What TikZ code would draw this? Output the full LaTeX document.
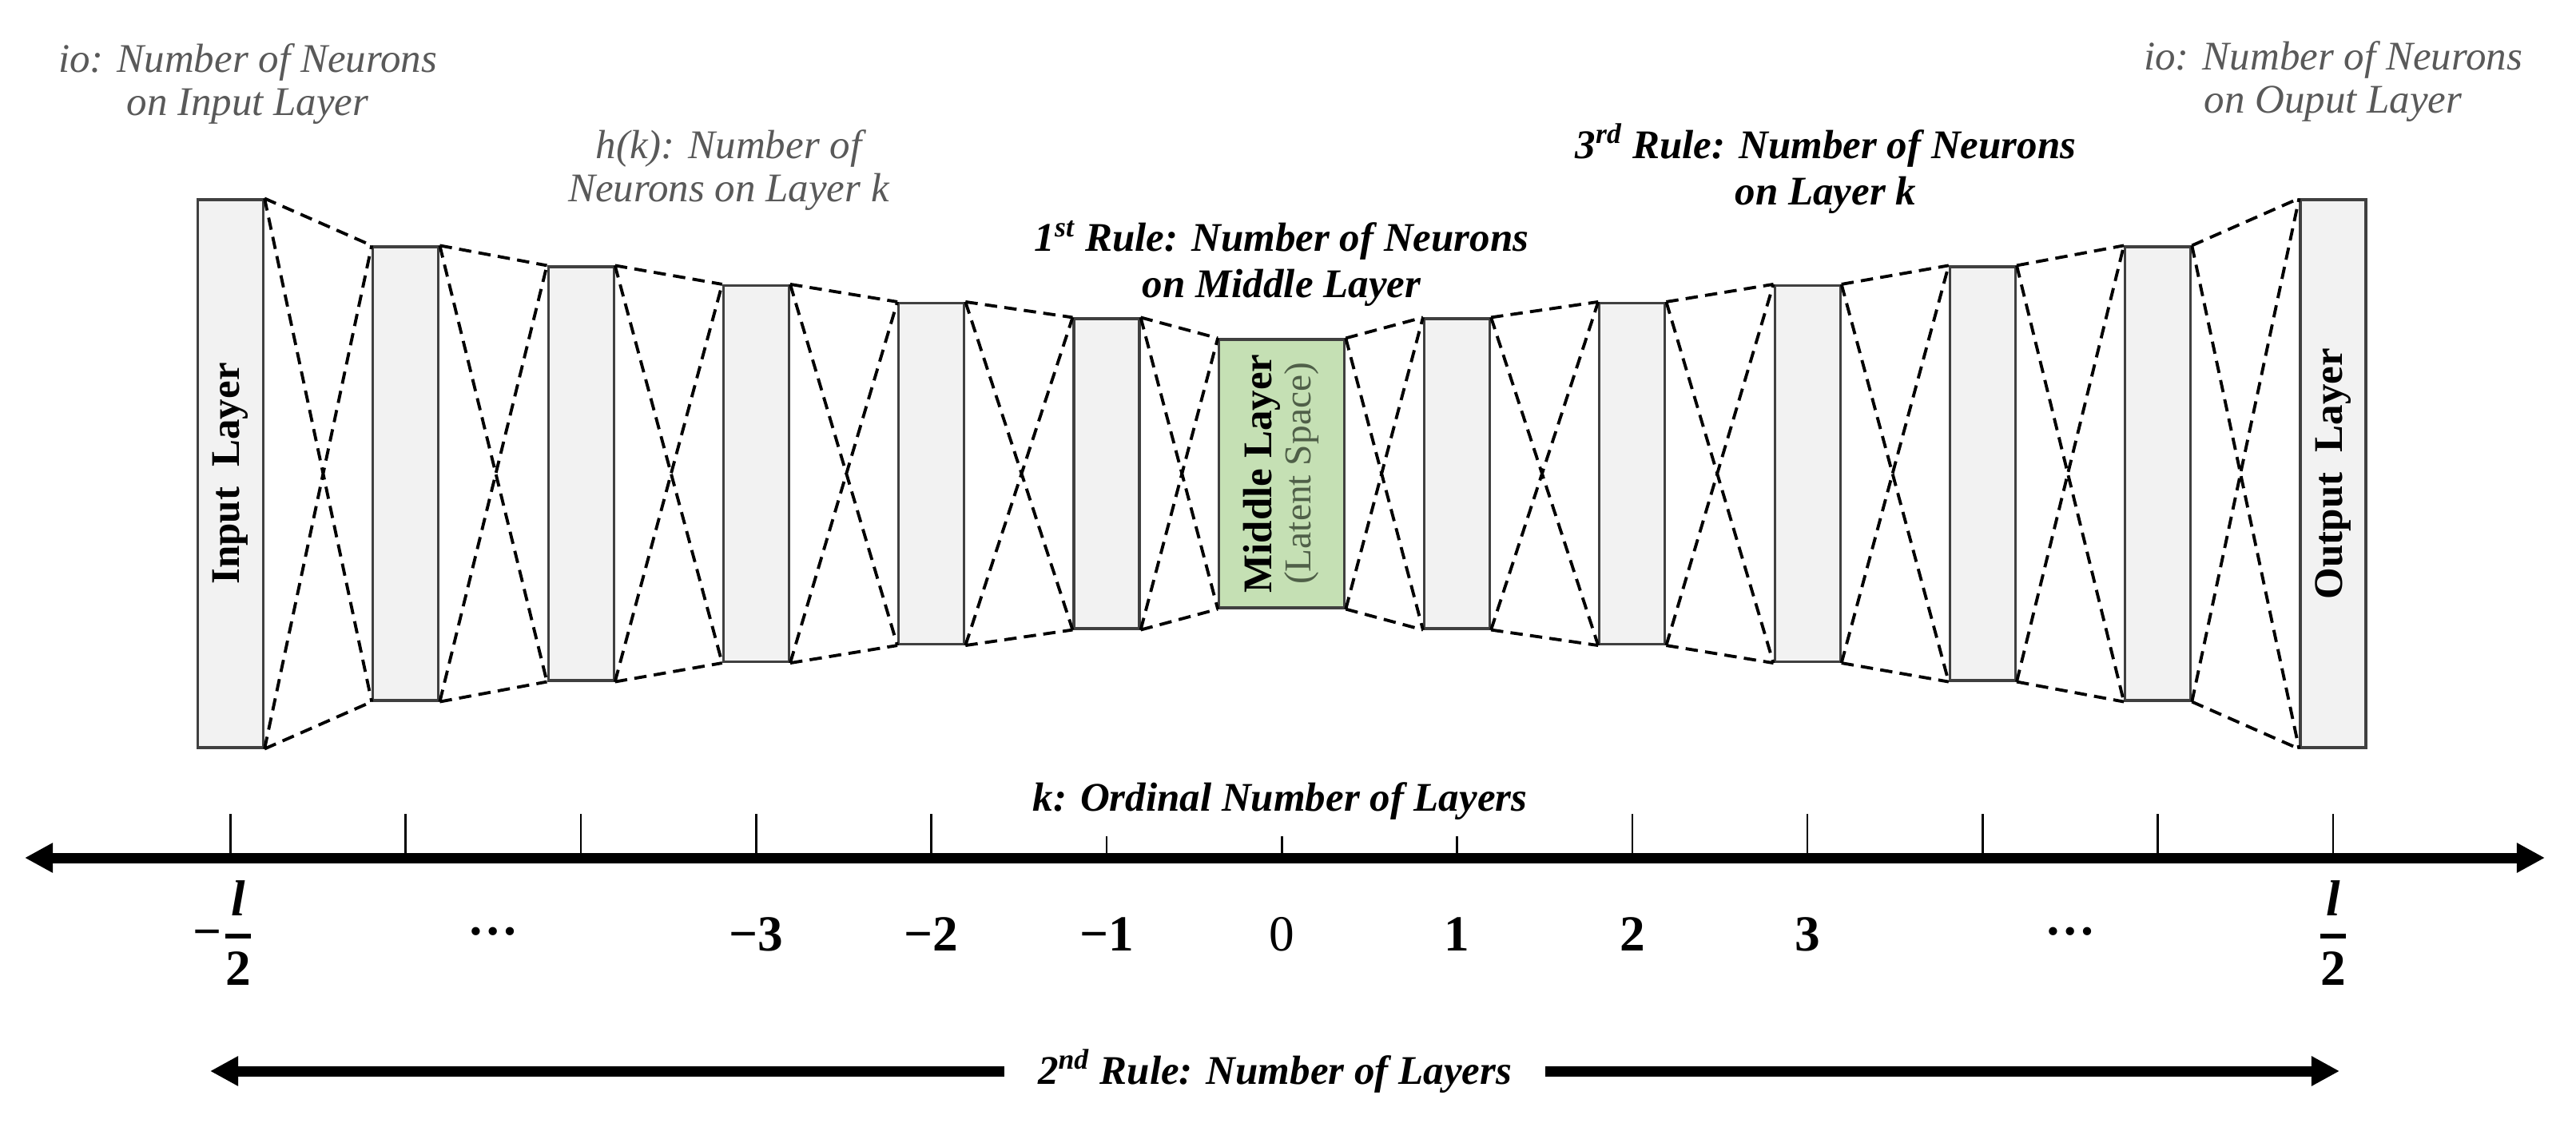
\documentclass[tikz,border=0pt]{standalone}
\usepackage{amsmath}
\usepackage{fontspec}
\setmainfont{Liberation Serif}
\usetikzlibrary{arrows.meta}
\newcommand{\layerwd}{.82cm}
\definecolor{notegray}{HTML}{595959}
\definecolor{layerfill}{HTML}{F2F2F2}
\definecolor{latentfill}{HTML}{C5E0B4}
\definecolor{latenttext}{HTML}{4F5F48}
\definecolor{edgegray}{HTML}{404040}

\begin{document}
\begin{tikzpicture}[
  layer/.style={draw=edgegray, line width=.9pt, fill=layerfill, rectangle, inner sep=0pt,
    minimum width=\layerwd, font=\fontsize{14.5}{17}\selectfont\bfseries},
  link/.style={line width=1.1pt, dash pattern=on 4.4pt off 2.6pt},
  note/.style={text=notegray, align=center, font=\fontsize{14.5}{15.6}\selectfont\itshape},
  rulenote/.style={align=center, font=\fontsize{14.5}{16.5}\selectfont\bfseries\itshape},
  bigarrow/.style={line width=3.7pt, {Triangle[length=10pt,width=10pt]}-{Triangle[length=10pt,width=10pt]}},
  tickmark/.style={line width=.75pt},
  ticklabel/.style={font=\fontsize{18}{20}\selectfont\bfseries}
]
\useasboundingbox (0,0) rectangle (32.24,14.05);

% layers, from input to output
\node (in) at (2.885,8.12) [layer, minimum height=6.86cm] {\rotatebox{90}{Input\ \ Layer}};
\node (e1) at (5.078,8.12) [layer, minimum height=5.68cm] {};
\node (e2) at (7.271,8.12) [layer, minimum height=5.18cm] {};
\node (e3) at (9.464,8.12) [layer, minimum height=4.71cm] {};
\node (e4) at (11.657,8.12) [layer, minimum height=4.27cm] {};
\node (e5) at (13.850,8.12) [layer, minimum height=3.88cm] {};
\node (mid) at (16.042,8.12) [layer, fill=latentfill, minimum width=1.57cm, minimum height=3.36cm]
  {\rotatebox{90}{\begin{tabular}{@{}c@{}}Middle Layer\\[-3pt]
   {\mdseries\fontsize{13.5}{14}\selectfont\color{latenttext}(Latent Space)}\end{tabular}}};
\node (d1) at (18.235,8.12) [layer, minimum height=3.88cm] {};
\node (d2) at (20.428,8.12) [layer, minimum height=4.27cm] {};
\node (d3) at (22.621,8.12) [layer, minimum height=4.71cm] {};
\node (d4) at (24.814,8.12) [layer, minimum height=5.18cm] {};
\node (d5) at (27.007,8.12) [layer, minimum height=5.68cm] {};
\node (out) at (29.200,8.12) [layer, minimum height=6.86cm] {\rotatebox{90}{Output\ \ Layer}};

\draw[link]
(in.north east) to (e1.north west) (in.north east) to (e1.south west) (in.south east) to (e1.north west) (in.south east) to (e1.south west)
(e1.north east) to (e2.north west) (e1.north east) to (e2.south west) (e1.south east) to (e2.north west) (e1.south east) to (e2.south west)
(e2.north east) to (e3.north west) (e2.north east) to (e3.south west) (e2.south east) to (e3.north west) (e2.south east) to (e3.south west)
(e3.north east) to (e4.north west) (e3.north east) to (e4.south west) (e3.south east) to (e4.north west) (e3.south east) to (e4.south west)
(e4.north east) to (e5.north west) (e4.north east) to (e5.south west) (e4.south east) to (e5.north west) (e4.south east) to (e5.south west)
(e5.north east) to (mid.north west) (e5.north east) to (mid.south west) (e5.south east) to (mid.north west) (e5.south east) to (mid.south west)
(mid.north east) to (d1.north west) (mid.north east) to (d1.south west) (mid.south east) to (d1.north west) (mid.south east) to (d1.south west)
(d1.north east) to (d2.north west) (d1.north east) to (d2.south west) (d1.south east) to (d2.north west) (d1.south east) to (d2.south west)
(d2.north east) to (d3.north west) (d2.north east) to (d3.south west) (d2.south east) to (d3.north west) (d2.south east) to (d3.south west)
(d3.north east) to (d4.north west) (d3.north east) to (d4.south west) (d3.south east) to (d4.north west) (d3.south east) to (d4.south west)
(d4.north east) to (d5.north west) (d4.north east) to (d5.south west) (d4.south east) to (d5.north west) (d4.south east) to (d5.south west)
(d5.north east) to (out.north west) (d5.north east) to (out.south west) (d5.south east) to (out.north west) (d5.south east) to (out.south west);

% notes above the layers
\node (ioin) at (3.10,13.00) [note] {io: Number of Neurons\\on Input Layer};
\node (hk) at (9.12,11.92) [note] {h(k): Number of\\Neurons on Layer k};
\node (rule1) at (16.04,10.75) [rulenote] {1\textsuperscript{st} Rule: Number of Neurons\\on Middle Layer};
\node (rule3) at (22.85,11.94) [rulenote] {3\textsuperscript{rd} Rule: Number of Neurons\\on Layer k};
\node (ioout) at (29.20,13.03) [note] {io: Number of Neurons\\on Ouput Layer};

% k axis
\coordinate (axl) at (0.31,3.31);
\coordinate (axr) at (31.85,3.31);
\draw[bigarrow] (axl) -- (axr);
\draw[tickmark]
(in |- axl) -- ++(0,.55) (e1 |- axl) -- ++(0,.55) (e2 |- axl) -- ++(0,.55)
(e3 |- axl) -- ++(0,.55) (e4 |- axl) -- ++(0,.55) (e5 |- axl) -- ++(0,.55)
(mid |- axl) -- ++(0,.55) (d1 |- axl) -- ++(0,.55) (d2 |- axl) -- ++(0,.55)
(d3 |- axl) -- ++(0,.55) (d4 |- axl) -- ++(0,.55) (d5 |- axl) -- ++(0,.55)
(out |- axl) -- ++(0,.55);
\node (klabel) at (16.02,4.02) [rulenote, fill=white, minimum height=.88cm] {k: Ordinal Number of Layers};

\node (kin) at (2.80,2.37) [ticklabel] {−$\genfrac{}{}{1.6pt}{0}{\textbf{\textit{l}}}{\textbf{2}}$};
\node (kdl) at (6.17,2.35) [ticklabel] {\raisebox{.3ex}{…}};
\node (km3) at (9.464,2.35) [ticklabel] {−3};
\node (km2) at (11.657,2.35) [ticklabel] {−2};
\node (km1) at (13.850,2.35) [ticklabel] {−1};
\node (k0) at (16.042,2.35) [ticklabel, font=\fontsize{18}{20}\selectfont] {0};
\node (kp1) at (18.235,2.35) [ticklabel] {1};
\node (kp2) at (20.428,2.35) [ticklabel] {2};
\node (kp3) at (22.621,2.35) [ticklabel] {3};
\node (kdr) at (25.91,2.35) [ticklabel] {\raisebox{.3ex}{…}};
\node (kout) at (29.200,2.37) [ticklabel] {$\genfrac{}{}{1.6pt}{0}{\textbf{\textit{l}}}{\textbf{2}}$};

% number of layers
\coordinate (nl) at (2.63,.64);
\coordinate (nr) at (29.28,.64);
\draw[bigarrow] (nl) -- (nr) node[midway, rulenote, fill=white, inner xsep=12pt] (nlayers) {2\textsuperscript{nd} Rule: Number of Layers};

\end{tikzpicture}
\end{document}
